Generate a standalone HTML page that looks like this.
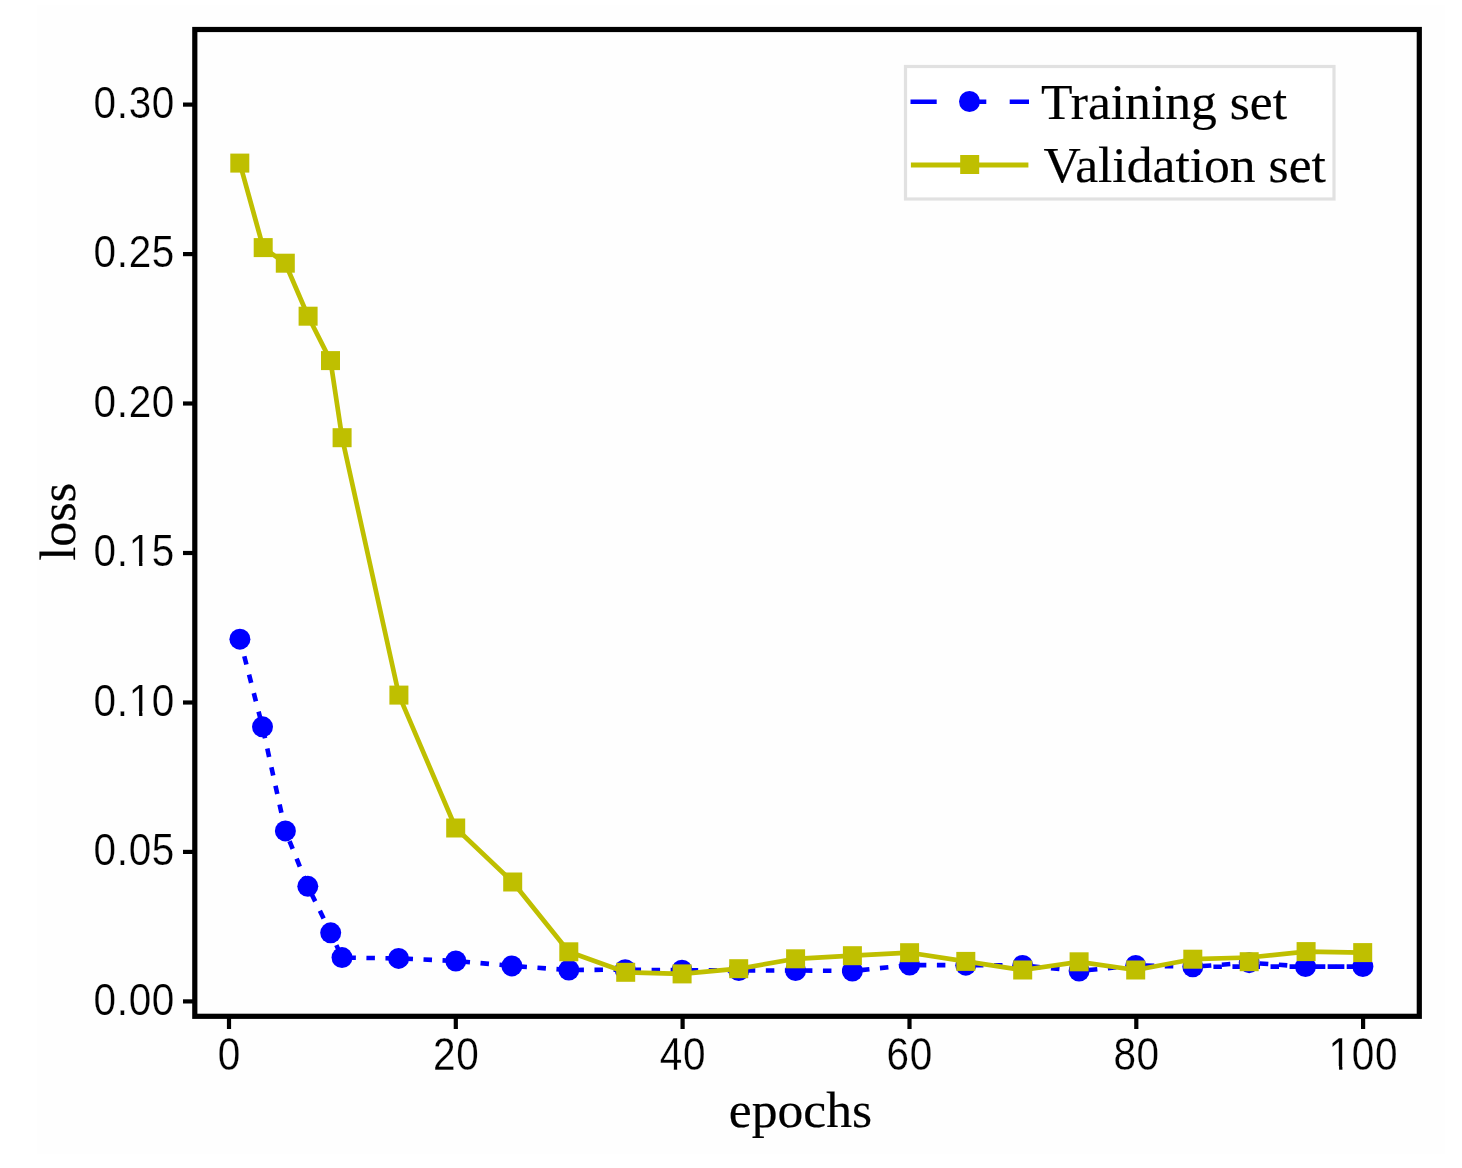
<!DOCTYPE html>
<html lang="en"><head><meta charset="utf-8"><title>loss vs epochs</title>
<style>
html,body{margin:0;padding:0;background:#fff;}
body{width:1462px;height:1168px;overflow:hidden;position:relative;}
svg{position:absolute;left:0;top:0;display:block;}
</style></head><body>
<svg width="1462" height="1168" viewBox="0 0 1462 1168">
<rect x="0" y="0" width="1462" height="1168" fill="#ffffff"/>
<rect x="37" y="5.5" width="1408" height="1148.5" fill="#fefefe"/>
<g id="training">
<polyline points="239.9,639.2 262.5,726.8 285.4,830.9 307.8,886.3 330.7,932.8 342.0,957.6 398.6,958.4 455.8,961.0 511.9,965.9 568.8,970.0 625.2,969.7 682.0,970.2 738.8,970.5 795.6,970.5 852.4,971.0 909.6,965.1 965.8,965.2 1022.7,965.4 1079.1,971.0 1135.7,965.4 1192.8,966.8 1249.2,962.7 1305.5,966.6 1362.9,966.6" fill="none" stroke="#0000ff" stroke-width="4.6" stroke-dasharray="8.5 10.54" stroke-dashoffset="1.44" stroke-linejoin="round"/>
<polyline points="1192.8,966.8 1249.2,966.6 1305.5,966.6 1362.9,966.6" fill="none" stroke="#0000ff" stroke-width="4.6" stroke-dasharray="8.5 10.54" stroke-dashoffset="-1.56"/>
<circle cx="239.9" cy="639.2" r="10.5" fill="#0000ff"/>
<circle cx="262.5" cy="726.8" r="10.5" fill="#0000ff"/>
<circle cx="285.4" cy="830.9" r="10.5" fill="#0000ff"/>
<circle cx="307.8" cy="886.3" r="10.5" fill="#0000ff"/>
<circle cx="330.7" cy="932.8" r="10.5" fill="#0000ff"/>
<circle cx="342" cy="957.6" r="10.5" fill="#0000ff"/>
<circle cx="398.6" cy="958.4" r="10.5" fill="#0000ff"/>
<circle cx="455.8" cy="961" r="10.5" fill="#0000ff"/>
<circle cx="511.9" cy="965.9" r="10.5" fill="#0000ff"/>
<circle cx="568.8" cy="970" r="10.5" fill="#0000ff"/>
<circle cx="625.2" cy="969.7" r="10.5" fill="#0000ff"/>
<circle cx="682" cy="970.2" r="10.5" fill="#0000ff"/>
<circle cx="738.8" cy="970.5" r="10.5" fill="#0000ff"/>
<circle cx="795.6" cy="970.5" r="10.5" fill="#0000ff"/>
<circle cx="852.4" cy="971" r="10.5" fill="#0000ff"/>
<circle cx="909.6" cy="965.1" r="10.5" fill="#0000ff"/>
<circle cx="965.8" cy="965.2" r="10.5" fill="#0000ff"/>
<circle cx="1022.7" cy="965.4" r="10.5" fill="#0000ff"/>
<circle cx="1079.1" cy="971" r="10.5" fill="#0000ff"/>
<circle cx="1135.7" cy="965.4" r="10.5" fill="#0000ff"/>
<circle cx="1192.8" cy="966.8" r="10.5" fill="#0000ff"/>
<circle cx="1249.2" cy="962.7" r="10.5" fill="#0000ff"/>
<circle cx="1305.5" cy="966.6" r="10.5" fill="#0000ff"/>
<circle cx="1362.9" cy="966.6" r="10.5" fill="#0000ff"/>
</g>
<g id="validation">
<polyline points="239.8,163.1 263.2,247.6 285.3,263.2 308.1,316.2 330.5,360.6 342.1,437.7 398.9,695.1 455.7,828.0 512.7,882.0 568.8,951.8 625.7,972.3 682.1,973.9 738.7,968.7 795.6,958.8 852.4,955.7 909.6,952.7 965.8,961.4 1022.7,970.0 1079.1,961.8 1135.7,970.0 1192.8,959.2 1249.2,957.5 1306.1,951.6 1362.7,952.6" fill="none" stroke="#bfbf00" stroke-width="4.7" stroke-linejoin="round"/>
<rect x="230.3" y="153.6" width="19" height="19" fill="#bfbf00"/>
<rect x="253.7" y="238.1" width="19" height="19" fill="#bfbf00"/>
<rect x="275.8" y="253.7" width="19" height="19" fill="#bfbf00"/>
<rect x="298.6" y="306.7" width="19" height="19" fill="#bfbf00"/>
<rect x="321.0" y="351.1" width="19" height="19" fill="#bfbf00"/>
<rect x="332.6" y="428.2" width="19" height="19" fill="#bfbf00"/>
<rect x="389.4" y="685.6" width="19" height="19" fill="#bfbf00"/>
<rect x="446.2" y="818.5" width="19" height="19" fill="#bfbf00"/>
<rect x="503.2" y="872.5" width="19" height="19" fill="#bfbf00"/>
<rect x="559.3" y="942.3" width="19" height="19" fill="#bfbf00"/>
<rect x="616.2" y="962.8" width="19" height="19" fill="#bfbf00"/>
<rect x="672.6" y="964.4" width="19" height="19" fill="#bfbf00"/>
<rect x="729.2" y="959.2" width="19" height="19" fill="#bfbf00"/>
<rect x="786.1" y="949.3" width="19" height="19" fill="#bfbf00"/>
<rect x="842.9" y="946.2" width="19" height="19" fill="#bfbf00"/>
<rect x="900.1" y="943.2" width="19" height="19" fill="#bfbf00"/>
<rect x="956.3" y="951.9" width="19" height="19" fill="#bfbf00"/>
<rect x="1013.2" y="960.5" width="19" height="19" fill="#bfbf00"/>
<rect x="1069.6" y="952.3" width="19" height="19" fill="#bfbf00"/>
<rect x="1126.2" y="960.5" width="19" height="19" fill="#bfbf00"/>
<rect x="1183.3" y="949.7" width="19" height="19" fill="#bfbf00"/>
<rect x="1239.7" y="952.2" width="19" height="19" fill="#bfbf00"/>
<rect x="1296.6" y="942.1" width="19" height="19" fill="#bfbf00"/>
<rect x="1353.2" y="943.1" width="19" height="19" fill="#bfbf00"/>
</g>
<g id="axes" stroke="#000" fill="none">
<rect x="194.8" y="29.5" width="1224.5" height="986.8" stroke-width="5.2"/>
<line x1="183" y1="1001.4" x2="194.8" y2="1001.4" stroke-width="4.2"/>
<line x1="183" y1="851.9" x2="194.8" y2="851.9" stroke-width="4.2"/>
<line x1="183" y1="702.5" x2="194.8" y2="702.5" stroke-width="4.2"/>
<line x1="183" y1="553.0" x2="194.8" y2="553.0" stroke-width="4.2"/>
<line x1="183" y1="403.5" x2="194.8" y2="403.5" stroke-width="4.2"/>
<line x1="183" y1="254.1" x2="194.8" y2="254.1" stroke-width="4.2"/>
<line x1="183" y1="104.6" x2="194.8" y2="104.6" stroke-width="4.2"/>
<line x1="229.0" y1="1016.3" x2="229.0" y2="1029" stroke-width="4.2"/>
<line x1="455.8" y1="1016.3" x2="455.8" y2="1029" stroke-width="4.2"/>
<line x1="682.6" y1="1016.3" x2="682.6" y2="1029" stroke-width="4.2"/>
<line x1="909.5" y1="1016.3" x2="909.5" y2="1029" stroke-width="4.2"/>
<line x1="1136.3" y1="1016.3" x2="1136.3" y2="1029" stroke-width="4.2"/>
<line x1="1363.1" y1="1016.3" x2="1363.1" y2="1029" stroke-width="4.2"/>
</g>
<g id="ticklabels" font-family='"Liberation Sans", Arial, Helvetica, sans-serif' font-size="45.0" fill="#000" letter-spacing="0.76" stroke="#fefefe" stroke-width="0.25">
<text transform="translate(93.5,1014.7) scale(0.9,1)">0.00</text>
<text transform="translate(93.5,865.2) scale(0.9,1)">0.05</text>
<text transform="translate(93.5,715.8) scale(0.9,1)">0.10</text>
<text transform="translate(93.5,566.3) scale(0.9,1)">0.15</text>
<text transform="translate(93.5,416.8) scale(0.9,1)">0.20</text>
<text transform="translate(93.5,267.4) scale(0.9,1)">0.25</text>
<text transform="translate(93.5,117.9) scale(0.9,1)">0.30</text>
<text transform="translate(229.3,1070.1) scale(0.862,1)" text-anchor="middle" font-size="47.0" letter-spacing="0.78">0</text>
<text transform="translate(456.2,1070.1) scale(0.862,1)" text-anchor="middle" font-size="47.0" letter-spacing="0.78">20</text>
<text transform="translate(683.0,1070.1) scale(0.862,1)" text-anchor="middle" font-size="47.0" letter-spacing="0.78">40</text>
<text transform="translate(909.8,1070.1) scale(0.862,1)" text-anchor="middle" font-size="47.0" letter-spacing="0.78">60</text>
<text transform="translate(1136.6,1070.1) scale(0.862,1)" text-anchor="middle" font-size="47.0" letter-spacing="0.78">80</text>
<text transform="translate(1363.4,1070.1) scale(0.862,1)" text-anchor="middle" font-size="47.0" letter-spacing="0.78">100</text>
</g>
<g fill="#fefefe"><rect x="130.67" y="711" width="8.40" height="6"/><rect x="142.41" y="711" width="7.90" height="6"/><rect x="130.67" y="562" width="8.40" height="5"/><rect x="142.41" y="562" width="7.90" height="5"/><rect x="1330.66" y="1066" width="8.41" height="5"/><rect x="1342.40" y="1066" width="7.90" height="5"/></g>
<g font-family='"Liberation Serif", "Times New Roman", Times, serif' fill="#000" stroke="#000" stroke-width="0.2">
<text x="800.5" y="1127.3" text-anchor="middle" font-size="51.6">epochs</text>
<text transform="translate(75.0,521.8) rotate(-90)" text-anchor="middle" font-size="50">loss</text>
</g>
<g id="legend">
<rect x="905.5" y="66.5" width="428.5" height="132.5" fill="#ffffff" stroke="#e1e1e1" stroke-width="3.2"/>
<line x1="910.5" y1="101.7" x2="1029" y2="101.7" stroke="#0000ff" stroke-width="4.6" stroke-dasharray="26.2 23.4"/>
<circle cx="969.5" cy="101.5" r="10.5" fill="#0000ff"/>
<line x1="910.9" y1="165" x2="1028.4" y2="165" stroke="#bfbf00" stroke-width="5"/>
<rect x="960.2" y="155" width="19" height="19" fill="#bfbf00"/>
<text x="1041" y="118.9" font-family='"Liberation Serif", "Times New Roman", Times, serif' font-size="51.6" fill="#000" stroke="#000" stroke-width="0.2">Training set</text>
<text x="1043.6" y="182.1" font-family='"Liberation Serif", "Times New Roman", Times, serif' font-size="51.6" fill="#000" stroke="#000" stroke-width="0.2">Validation set</text>
</g>
</svg>
</body></html>
